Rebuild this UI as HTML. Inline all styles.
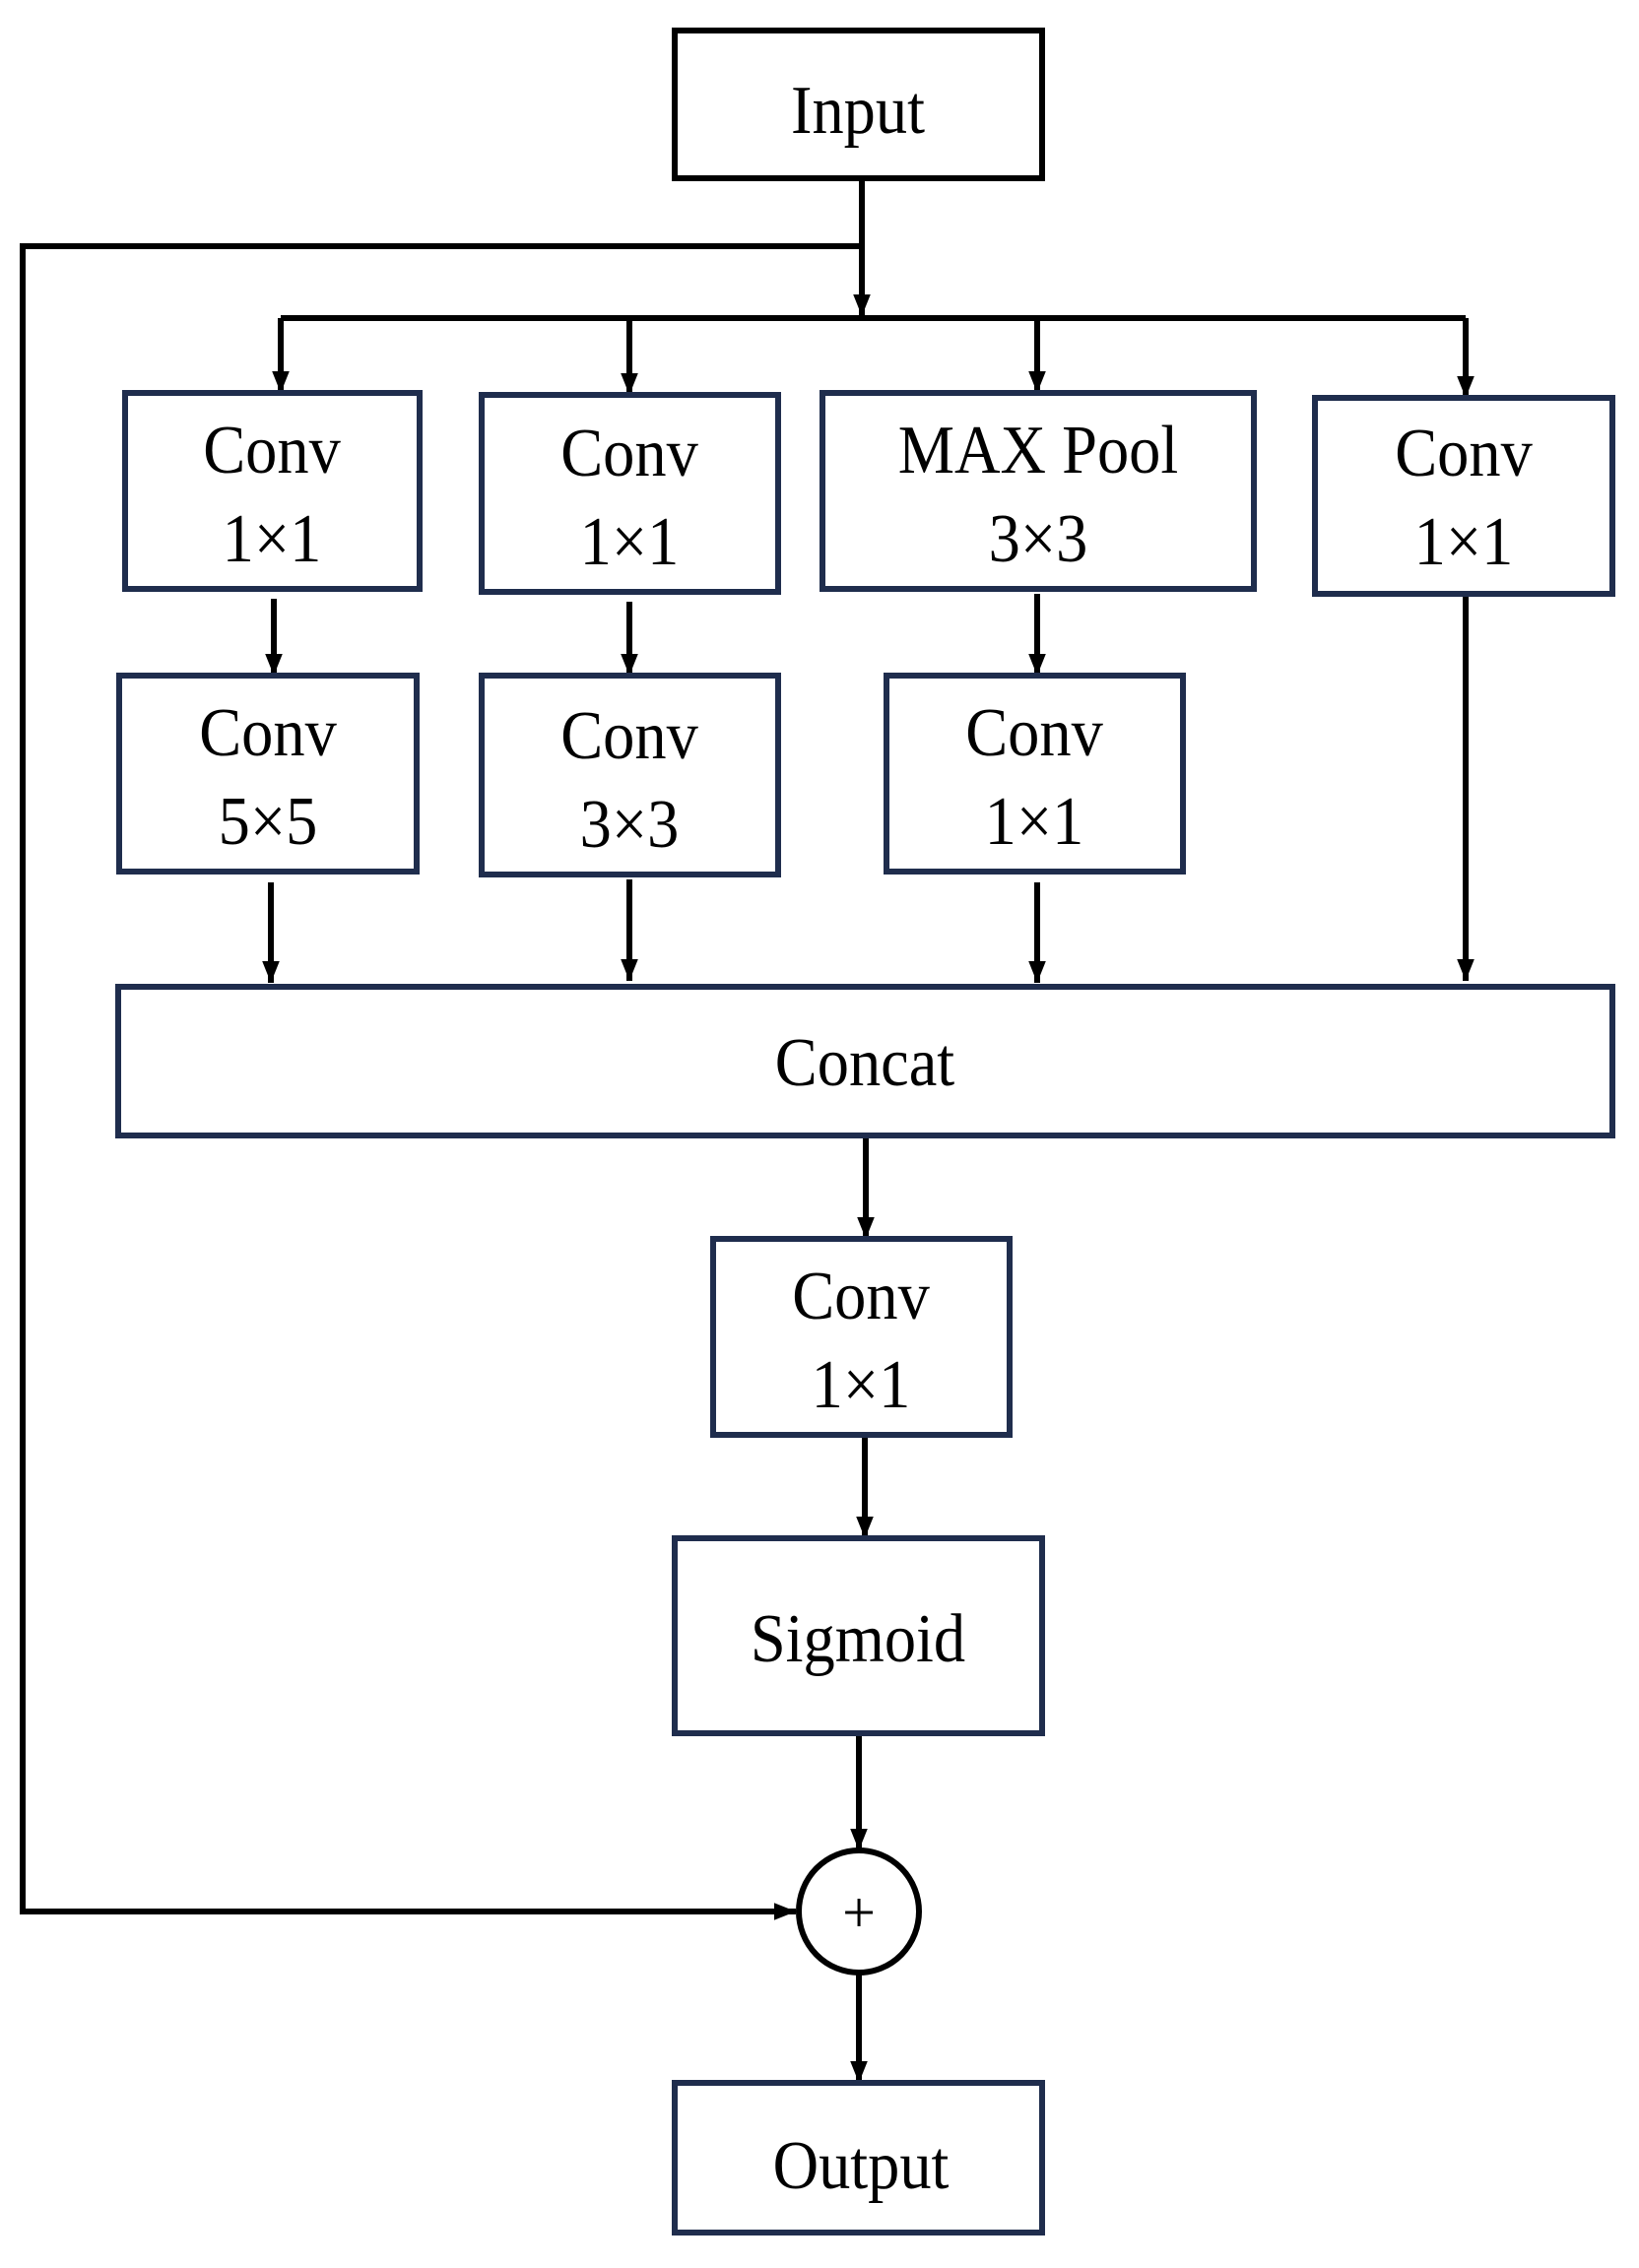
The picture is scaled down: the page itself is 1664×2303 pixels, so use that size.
<!DOCTYPE html>
<html><head><style>html,body{margin:0;padding:0;background:#fff}</style></head><body>
<svg width="1664" height="2298" viewBox="0 0 1664 2298" xmlns="http://www.w3.org/2000/svg">
<defs>
<marker id="b" viewBox="0 0 10 10" refX="10" refY="5" markerWidth="22" markerHeight="22" orient="auto" markerUnits="userSpaceOnUse"><path d="M0,1 L10,5 L0,9 z" fill="#000"/></marker></defs>
<g stroke="#000" stroke-width="6" fill="none">
<line x1="875" y1="181" x2="875" y2="321" marker-end="url(#b)"/>
<polyline points="875,250 23,250 23,1941 808,1941" marker-end="url(#b)"/>
<line x1="285" y1="323" x2="1488" y2="323"/>
<line x1="285" y1="323" x2="285" y2="399" marker-end="url(#b)"/>
<line x1="639" y1="323" x2="639" y2="401" marker-end="url(#b)"/>
<line x1="1053" y1="323" x2="1053" y2="399" marker-end="url(#b)"/>
<line x1="1488" y1="323" x2="1488" y2="404" marker-end="url(#b)"/>
<line x1="278" y1="608" x2="278" y2="686" marker-end="url(#b)"/>
<line x1="639" y1="611" x2="639" y2="686" marker-end="url(#b)"/>
<line x1="1053" y1="603" x2="1053" y2="686" marker-end="url(#b)"/>
<line x1="275" y1="896" x2="275" y2="998" marker-end="url(#b)"/>
<line x1="639" y1="893" x2="639" y2="996" marker-end="url(#b)"/>
<line x1="1053" y1="896" x2="1053" y2="998" marker-end="url(#b)"/>
<line x1="1488" y1="603" x2="1488" y2="996" marker-end="url(#b)"/>
<line x1="879" y1="1153" x2="879" y2="1258" marker-end="url(#b)"/>
<line x1="878" y1="1457" x2="878" y2="1562" marker-end="url(#b)"/>
<line x1="872" y1="1760" x2="872" y2="1879" marker-end="url(#b)"/>
<line x1="872" y1="2003" x2="872" y2="2115" marker-end="url(#b)"/>
</g>
<g fill="#fff" stroke="#1f2d4d" stroke-width="6">
<rect x="685" y="31" width="373" height="150" stroke="#000"/>
<rect x="127" y="399" width="299" height="199"/>
<rect x="489" y="401" width="301" height="200"/>
<rect x="835" y="399" width="438" height="199"/>
<rect x="1335" y="404" width="302" height="199"/>
<rect x="121" y="686" width="302" height="199"/>
<rect x="489" y="686" width="301" height="202"/>
<rect x="900" y="686" width="301" height="199"/>
<rect x="120" y="1002" width="1517" height="151"/>
<rect x="724" y="1258" width="301" height="199"/>
<rect x="685" y="1562" width="373" height="198"/>
<rect x="685" y="2115" width="373" height="152"/>
</g>
<ellipse cx="872" cy="1941" rx="61" ry="62" fill="#fff" stroke="#000" stroke-width="6"/>
<g font-family="Liberation Serif, serif" font-size="70" text-anchor="middle" fill="#000">
<text transform="translate(871,135) scale(0.92,1)">Input</text>
<text transform="translate(276,480) scale(0.92,1)">Conv</text><text transform="translate(276,570) scale(0.92,1)">1×1</text>
<text transform="translate(639,483) scale(0.92,1)">Conv</text><text transform="translate(639,573) scale(0.92,1)">1×1</text>
<text transform="translate(1054,480) scale(0.92,1)">MAX Pool</text><text transform="translate(1054,570) scale(0.92,1)">3×3</text>
<text transform="translate(1486,483) scale(0.92,1)">Conv</text><text transform="translate(1486,573) scale(0.92,1)">1×1</text>
<text transform="translate(272,767) scale(0.92,1)">Conv</text><text transform="translate(272,857) scale(0.92,1)">5×5</text>
<text transform="translate(639,770) scale(0.92,1)">Conv</text><text transform="translate(639,860) scale(0.92,1)">3×3</text>
<text transform="translate(1050,767) scale(0.92,1)">Conv</text><text transform="translate(1050,857) scale(0.92,1)">1×1</text>
<text transform="translate(878,1102) scale(0.92,1)">Concat</text>
<text transform="translate(874,1339) scale(0.92,1)">Conv</text><text transform="translate(874,1429) scale(0.92,1)">1×1</text>
<text transform="translate(871,1687) scale(0.92,1)">Sigmoid</text>
<text x="872" y="1962" font-size="60">+</text>
<text transform="translate(874,2222) scale(0.92,1)">Output</text>
</g>
</svg>
</body></html>
